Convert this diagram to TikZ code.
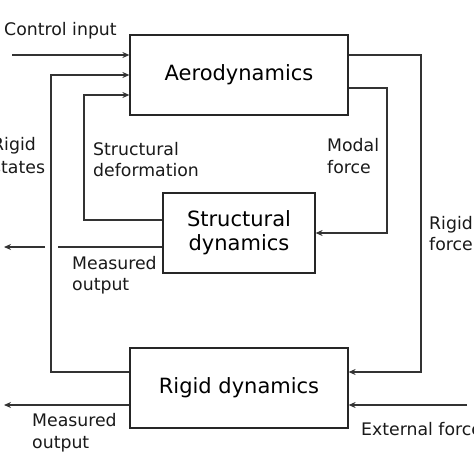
\documentclass[tikz,border=0pt]{standalone}
\usepackage{fontspec}
\setmainfont{DejaVu Sans}
\usetikzlibrary{arrows.meta}
\begin{document}
\begin{tikzpicture}[x=1pt,y=-1pt,
  box/.style={draw=black!85,line width=1.2pt,inner sep=0pt,font=\fontsize{21}{24}\selectfont,align=center},
  lbl/.style={anchor=base west,inner sep=0pt,font=\fontsize{17.3}{20}\selectfont,text=black!90},
  conn/.style={draw=black!80,line width=1.1pt},
  arr/.style={conn,-{Stealth[length=7pt,width=6pt]}}]
\useasboundingbox (0,0) rectangle (474,474);
\clip (0,0) rectangle (474,474);
% boxes
\node[box,minimum width=218pt,minimum height=80pt] (aero) at (239,75) {Aerodynamics};
\node[box,minimum width=152pt,minimum height=80pt] (struct) at (239,233) {Structural\\dynamics};
\node[box,minimum width=218pt,minimum height=80pt] (rigid) at (239,388) {Rigid dynamics};
% coordinates
\coordinate (ci) at (12,55);
\coordinate (rsb) at (51,372);
\coordinate (rst) at (51,75);
\coordinate (sdb) at (84,220);
\coordinate (sdt) at (84,95);
\coordinate (mft) at (387,88);
\coordinate (mfb) at (387,233);
\coordinate (rft) at (421,55);
\coordinate (rfb) at (421,372);
\coordinate (mo1a) at (58,247);
\coordinate (mo1b) at (45,247);
\coordinate (mo1c) at (4,247);
\coordinate (mo2) at (4,405);
\coordinate (ef) at (467,405);
% connectors
\draw[arr] (ci) -- (aero.west |- ci);
\draw[arr] (rigid.west |- rsb) -- (rsb) -- (rst) -- (aero.west |- rst);
\draw[arr] (struct.west |- sdb) -- (sdb) -- (sdt) -- (aero.west |- sdt);
\draw[arr] (aero.east |- mft) -- (mft) -- (mfb) -- (struct.east |- mfb);
\draw[arr] (aero.east |- rft) -- (rft) -- (rfb) -- (rigid.east |- rfb);
\draw[conn] (struct.west |- mo1a) -- (mo1a);
\draw[arr] (mo1b) -- (mo1c);
\draw[arr] (rigid.west |- mo2) -- (mo2);
\draw[arr] (ef) -- (rigid.east |- ef);
% labels
\node[lbl] (lci) at (4,35) {Control input};
\node[lbl] (lrs1) at (-8,150) {Rigid};
\node[lbl] (lrs2) at (-8,173) {states};
\node[lbl] (lsd1) at (93,155) {Structural};
\node[lbl] (lsd2) at (93,176) {deformation};
\node[lbl] (lmf1) at (327,151) {Modal};
\node[lbl] (lmf2) at (327,173) {force};
\node[lbl] (lrf1) at (429,229) {Rigid};
\node[lbl] (lrf2) at (429,250) {force};
\node[lbl] (lmo1) at (72,269) {Measured};
\node[lbl] (lmo2) at (72,290) {output};
\node[lbl] (lmo3) at (32,426) {Measured};
\node[lbl] (lmo4) at (32,448) {output};
\node[lbl] (lef) at (361,435) {External force};
\end{tikzpicture}
\end{document}
